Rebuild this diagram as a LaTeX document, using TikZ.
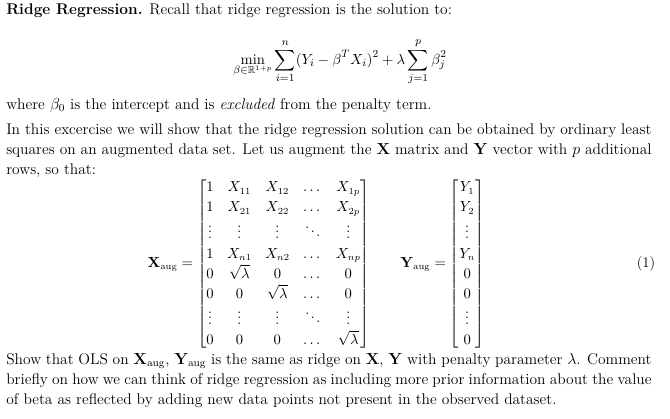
\documentclass[tikz,border=0pt]{standalone}
\usepackage{amsmath,amssymb}
\begin{document}
\begin{tikzpicture}[x=0.75pt,y=-0.75pt,
  txt/.style={anchor=north west,inner sep=0pt,text width=484pt,align=justify,font=\fontsize{11.6}{15.2}\selectfont}]
\useasboundingbox (0,0) rectangle (670,418);
\node[txt] (t1) at (6,3) {\textbf{Ridge Regression.} Recall that ridge regression is the solution to:};
\node[inner sep=0pt,font=\fontsize{11}{13}\selectfont] (eq) at (340,62) {$\displaystyle \min_{\beta\in\mathbb{R}^{1+p}} \sum_{i=1}^{n}(Y_i-\beta^T X_i)^2+\lambda\sum_{j=1}^{p}\beta_j^2$};
\node[txt] (t2) at (6,98) {where $\beta_0$ is the intercept and is \emph{excluded} from the penalty term.};
\node[txt] (t3) at (6,123) {In this excercise we will show that the ridge regression solution can be obtained by ordinary least squares on an augmented data set. Let us augment the $\mathbf{X}$ matrix and $\mathbf{Y}$ vector with $p$ additional rows, so that:};
\node[inner sep=0pt,font=\fontsize{10.5}{12}\selectfont] (m) at (316,264) {\renewcommand{\arraystretch}{1.25}$\mathbf{X}_{\mathrm{aug}}=\begin{bmatrix}
1 & X_{11} & X_{12} & \dots & X_{1p}\\
1 & X_{21} & X_{22} & \dots & X_{2p}\\
\vdots & \vdots & \vdots & \ddots & \vdots\\
1 & X_{n1} & X_{n2} & \dots & X_{np}\\
0 & \sqrt{\lambda} & 0 & \dots & 0\\
0 & 0 & \sqrt{\lambda} & \dots & 0\\
\vdots & \vdots & \vdots & \ddots & \vdots\\
0 & 0 & 0 & \dots & \sqrt{\lambda}
\end{bmatrix}
\qquad
\mathbf{Y}_{\mathrm{aug}}=\begin{bmatrix}
Y_1\\ Y_2\\ \vdots\\ Y_n\\ 0\\ 0\\ \vdots\\ 0
\end{bmatrix}$};
\node[inner sep=0pt,font=\fontsize{11}{13}\selectfont] (n1) at (646,264) {(1)};
\node[txt] (t4) at (6,353) {Show that OLS on $\mathbf{X}_{\mathrm{aug}}$, $\mathbf{Y}_{\mathrm{aug}}$ is the same as ridge on $\mathbf{X}$, $\mathbf{Y}$ with penalty parameter $\lambda$. Comment briefly on how we can think of ridge regression as including more prior information about the value of beta as reflected by adding new data points not present in the observed dataset.};
\end{tikzpicture}
\end{document}
